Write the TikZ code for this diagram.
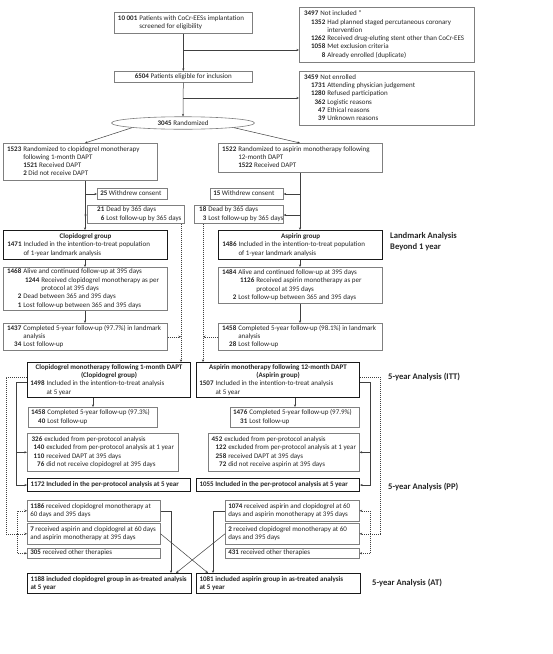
\documentclass[tikz,border=0pt]{standalone}
\usepackage{fontspec}
\setmainfont{Carlito}
\usetikzlibrary{arrows.meta,shapes.geometric,calc}
\definecolor{boxgray}{HTML}{7F7F7F}
\definecolor{linegray}{HTML}{404040}
\definecolor{txtcol}{HTML}{262626}
\newcommand\Nm[2]{\makebox[#1pt][r]{\textbf{#2}}\hspace{2pt}}
\newcommand\Ind[1]{\hspace*{#1pt}\hspace*{2pt}}
\newcommand\Ctr[1]{\makebox[\bxt pt][c]{#1}}
\newcommand\mkbox[7][]{%
  \pgfmathsetmacro\bxw{#5-(#3)}%
  \pgfmathsetmacro\bxh{#6-(#4)}%
  \pgfmathsetmacro\bxt{#5-(#3)-6}%
  \node[box,#1,minimum width=\bxw pt,minimum height=\bxh pt,anchor=north west] (#2) at (#3,#4)
   {\makebox[\bxt pt][l]{\begin{tabular}{@{}l@{}}#7\end{tabular}}};}
\begin{document}
\begin{tikzpicture}[x=1pt,y=-1pt,
  font=\fontsize{7}{8.3}\selectfont,
  box/.style={draw=boxgray,line width=0.6pt,rectangle,inner xsep=3pt,inner ysep=0.5pt,text=txtcol},
  thick box/.style={draw=black!90,line width=1.1pt},
  ell/.style={draw=boxgray,line width=0.6pt,ellipse,minimum width=143pt,minimum height=12.5pt,inner sep=0pt,text=txtcol},
  arr/.style={draw=linegray,line width=0.5pt,-{Stealth[length=2.6pt,width=2.2pt]}},
  darr/.style={arr,dash pattern=on 1pt off 1pt},
  lab/.style={anchor=west,font=\fontsize{8.6}{11}\selectfont\bfseries,text=black!85,inner sep=0pt,align=left}]
\fill[white] (0,0) rectangle (553,654);
\useasboundingbox (0,0) rectangle (553,654);

% ---- top part
\mkbox{b0}{114}{12}{252}{33}{\Nm{20}{10 001}Patients with CoCr-EESs implantation\\\Ind{20}screened for eligibility}
\mkbox{ni}{299}{7}{474}{62}{\Nm{16}{3497}Not included *\\
\Nm{23}{1352}Had planned staged percutaneous coronary\\
\Ind{23}intervention\\
\Nm{23}{1262}Received drug-eluting stent other than CoCr-EES\\
\Nm{23}{1058}Met exclusion criteria\\
\Nm{23}{8}Already enrolled (duplicate)}
\mkbox{b1}{114}{71}{252}{82}{\Ctr{\textbf{6504} Patients eligible for inclusion}}
\mkbox{ne}{299}{71}{474}{125}{\Nm{16}{3459}Not enrolled\\
\Nm{23}{1731}Attending physician judgement\\
\Nm{23}{1280}Refused participation\\
\Nm{23}{362}Logistic reasons\\
\Nm{23}{47}Ethical reasons\\
\Nm{23}{39}Unknown reasons}
\node[ell] (rand) at (183,123) {\textbf{3045} Randomized};

% ---- arms
\mkbox{a1}{3}{143}{157}{180}{\Nm{15}{1523}Randomized to clopidogrel monotherapy\\
\Ind{15}following 1-month DAPT\\
\Ind{15}\textbf{1521} Received DAPT\\
\Ind{15}\textbf{2} Did not receive DAPT}
\mkbox{a2}{218}{143}{382}{172}{\Nm{15}{1522}Randomized to aspirin monotherapy following\\
\Ind{15}12-month DAPT\\
\Ind{15}\textbf{1522} Received DAPT}
\mkbox{w1}{97}{188}{167}{199}{\textbf{25} Withdrew consent}
\mkbox{w2}{210}{188}{283}{199}{\textbf{15} Withdrew consent}
\mkbox{d1}{87}{205}{184}{223}{\Nm{14}{21}Dead by 365 days\\\Nm{14}{6}Lost follow-up by 365 days}
\mkbox{d2}{194}{205}{283}{223}{\Nm{9}{18}Dead by 365 days\\\Nm{9}{3}Lost follow-up by 365 days}

% ---- landmark
\mkbox[thick box]{g1}{3}{230}{167}{259}{\Ctr{\textbf{Clopidogrel group}}\\
\Nm{15}{1471}Included in the intention-to-treat population\\
\Ind{15}of 1-year landmark analysis}
\mkbox[thick box]{g2}{218}{230}{382}{259}{\Ctr{\textbf{Aspirin group}}\\
\Nm{15}{1486}Included in the intention-to-treat population\\
\Ind{15}of 1-year landmark analysis}
\mkbox{f1}{3}{267}{167}{310}{\Nm{15}{1468}Alive and continued follow-up at 395 days\\
\Nm{33}{1244}Received clopidogrel monotherapy as per\\
\Ind{33}protocol at 395 days\\
\Nm{15}{2}Dead between 365 and 395 days\\
\Nm{15}{1}Lost follow-up between 365 and 395 days}
\mkbox{f2}{218}{267}{382}{303}{\Nm{15}{1484}Alive and continued follow-up at 395 days\\
\Nm{33}{1126}Received aspirin monotherapy as per\\
\Ind{33}protocol at 395 days\\
\Nm{15}{2}Lost follow-up between 365 and 395 days}
\mkbox{c1}{3}{323}{167}{350}{\Nm{15}{1437}Completed 5-year follow-up (97.7\%) in landmark\\
\Ind{15}analysis\\
\Nm{15}{34}Lost follow-up}
\mkbox{c2}{218}{323}{382}{350}{\Nm{15}{1458}Completed 5-year follow-up (98.1\%) in landmark\\
\Ind{15}analysis\\
\Nm{15}{28}Lost follow-up}

% ---- 5-year ITT
\mkbox[thick box]{i1}{27}{362}{190}{397}{\Ctr{\textbf{Clopidogrel monotherapy following 1-month DAPT}}\\
\Ctr{\textbf{(Clopidogrel group)}}\\
\Nm{14}{1498}Included in the intention-to-treat analysis\\
\Ind{14}at 5 year}
\mkbox[thick box]{i2}{196}{362}{359}{397}{\Ctr{\textbf{Aspirin monotherapy following 12-month DAPT}}\\
\Ctr{\textbf{(Aspirin group)}}\\
\Nm{14}{1507}Included in the intention-to-treat analysis\\
\Ind{14}at 5 year}
\mkbox{p1}{28}{407}{157}{427}{\Nm{14}{1458}Completed 5-year follow-up (97.3\%)\\\Nm{14}{40}Lost follow-up}
\mkbox{p2}{230}{407}{359}{427}{\Nm{14}{1476}Completed 5-year follow-up (97.9\%)\\\Nm{14}{31}Lost follow-up}
\mkbox{e1}{27}{433}{178}{471}{\Nm{12}{326}excluded from per-protocol analysis\\
\Nm{14}{140}excluded from per-protocol analysis at 1 year\\
\Nm{14}{110}received DAPT at 395 days\\
\Nm{14}{76}did not receive clopidogrel at 395 days}
\mkbox{e2}{208}{433}{359}{471}{\Nm{11}{452}excluded from per-protocol analysis\\
\Nm{15}{122}excluded from per-protocol analysis at 1 year\\
\Nm{15}{258}received DAPT at 395 days\\
\Nm{15}{72}did not receive aspirin at 395 days}
\mkbox[thick box]{pp1}{27}{478}{190}{491}{\textbf{1172 Included in the per-protocol analysis at 5 year}}
\mkbox[thick box]{pp2}{196}{478}{359}{491}{\textbf{1055 Included in the per-protocol analysis at 5 year}}

% ---- as-treated
\mkbox{t1}{27}{500}{160}{521}{\textbf{1186} received clopidogrel monotherapy at\\60 days and 395 days}
\mkbox{u1}{225}{500}{359}{521}{\textbf{1074} received aspirin and clopidogrel at 60\\days and aspirin monotherapy at 395 days}
\mkbox{t2}{27}{523}{160}{544}{\textbf{7} received aspirin and clopidogrel at 60 days\\and aspirin monotherapy at 395 days}
\mkbox{u2}{225}{523}{359}{544}{\textbf{2} received clopidogrel monotherapy at 60\\days and 395 days}
\mkbox{t3}{27}{548}{160}{558}{\textbf{305} received other therapies}
\mkbox{u3}{225}{548}{359}{558}{\textbf{431} received other therapies}
\mkbox[thick box]{at1}{27}{573}{191}{593}{\textbf{1188 included clopidogrel group in as-treated analysis}\\\textbf{at 5 year}}
\mkbox[thick box]{at2}{196}{573}{360}{593}{\textbf{1081 included aspirin group in as-treated analysis}\\\textbf{at 5 year}}

% ---- labels
\node[lab] (lab1) at (390,242) {Landmark Analysis\\Beyond 1 year};
\node[lab] (lab2) at (388,377) {5-year Analysis (ITT)};
\node[lab] (lab3) at (388,487) {5-year Analysis (PP)};
\node[lab] (lab4) at (372,583) {5-year Analysis (AT)};

% ---- coordinates
\coordinate (j1) at (183,50);
\coordinate (j2) at (183,98);
\coordinate (xL) at (85,0);
\coordinate (xR) at (300,0);
\coordinate (j3) at (85,194);
\coordinate (j4) at (85,215);
\coordinate (j5) at (300,194);
\coordinate (j6) at (300,215);
\coordinate (xdL) at (181,0);
\coordinate (xdR) at (203,0);
\coordinate (xiL) at (93,0);
\coordinate (xiR) at (295,0);
\coordinate (sL) at (16,382);
\coordinate (sR) at (370,382);
\coordinate (dL) at (6,377);
\coordinate (dR) at (380,377);
\coordinate (bL) at (17,0);
\coordinate (bR) at (370,0);
\coordinate (aL1) at (171,0);
\coordinate (aL2) at (176,0);
\coordinate (aR1) at (208,0);
\coordinate (aR2) at (213,0);

% ---- connectors
\draw[arr] (b0.south) -- (b1.north);
\draw[arr] (j1) -- (j1 -| ni.west);
\draw[arr] (b1.south) -- (rand.north);
\draw[arr] (j2) -- (j2 -| ne.west);
\draw[arr] (rand.south west) -- (a1.north -| xL);
\draw[arr] (rand.south east) -- (a2.north -| xR);
\draw[arr] (a1.south -| xL) -- (g1.north -| xL);
\draw[arr] (j3) -- (j3 -| w1.west);
\draw[arr] (j4) -- (j4 -| d1.west);
\draw[arr] (a2.south -| xR) -- (g2.north -| xR);
\draw[arr] (j5) -- (j5 -| w2.east);
\draw[arr] (j6) -- (j6 -| d2.east);
\draw[arr] (g1.south -| xL) -- (f1.north -| xL);
\draw[arr] (f1.south -| xL) -- (c1.north -| xL);
\draw[arr] (g2.south -| xR) -- (f2.north -| xR);
\draw[arr] (f2.south -| xR) -- (c2.north -| xR);
\draw[darr] (d1.south -| xdL) -- (i1.north -| xdL);
\draw[darr] (c1.east) -- (c1.east -| xdL);
\draw[darr] (d2.south -| xdR) -- (i2.north -| xdR);
\draw[darr] (c2.west) -- (c2.west -| xdR);
\draw[arr] (i1.south -| xiL) -- (p1.north -| xiL);
\draw[arr] (i2.south -| xiR) -- (p2.north -| xiR);
\draw[arr] (i1.west |- sL) -- (sL) |- (pp1.west);
\draw[arr] (sL |- e1.west) -- (e1.west);
\draw[arr] (i2.east |- sR) -- (sR) |- (pp2.east);
\draw[arr] (sR |- e2.east) -- (e2.east);
\draw[darr] (i1.west |- dL) -- (dL) |- (t2.west);
\draw[darr] (bL |- t2.west) |- (t1.west);
\draw[darr] (bL |- t2.west) |- (t3.west);
\draw[darr] (i2.east |- dR) -- (dR) |- (u2.east);
\draw[darr] (bR |- u2.east) |- (u1.east);
\draw[darr] (bR |- u2.east) |- (u3.east);
\draw[arr] (t1.east) -| (at1.north -| aL1);
\draw[arr] (u2.west) -- (at1.north -| aL2);
\draw[arr] (t2.east) -- (at2.north -| aR1);
\draw[arr] (u1.west) -| (at2.north -| aR2);
\end{tikzpicture}
\end{document}
